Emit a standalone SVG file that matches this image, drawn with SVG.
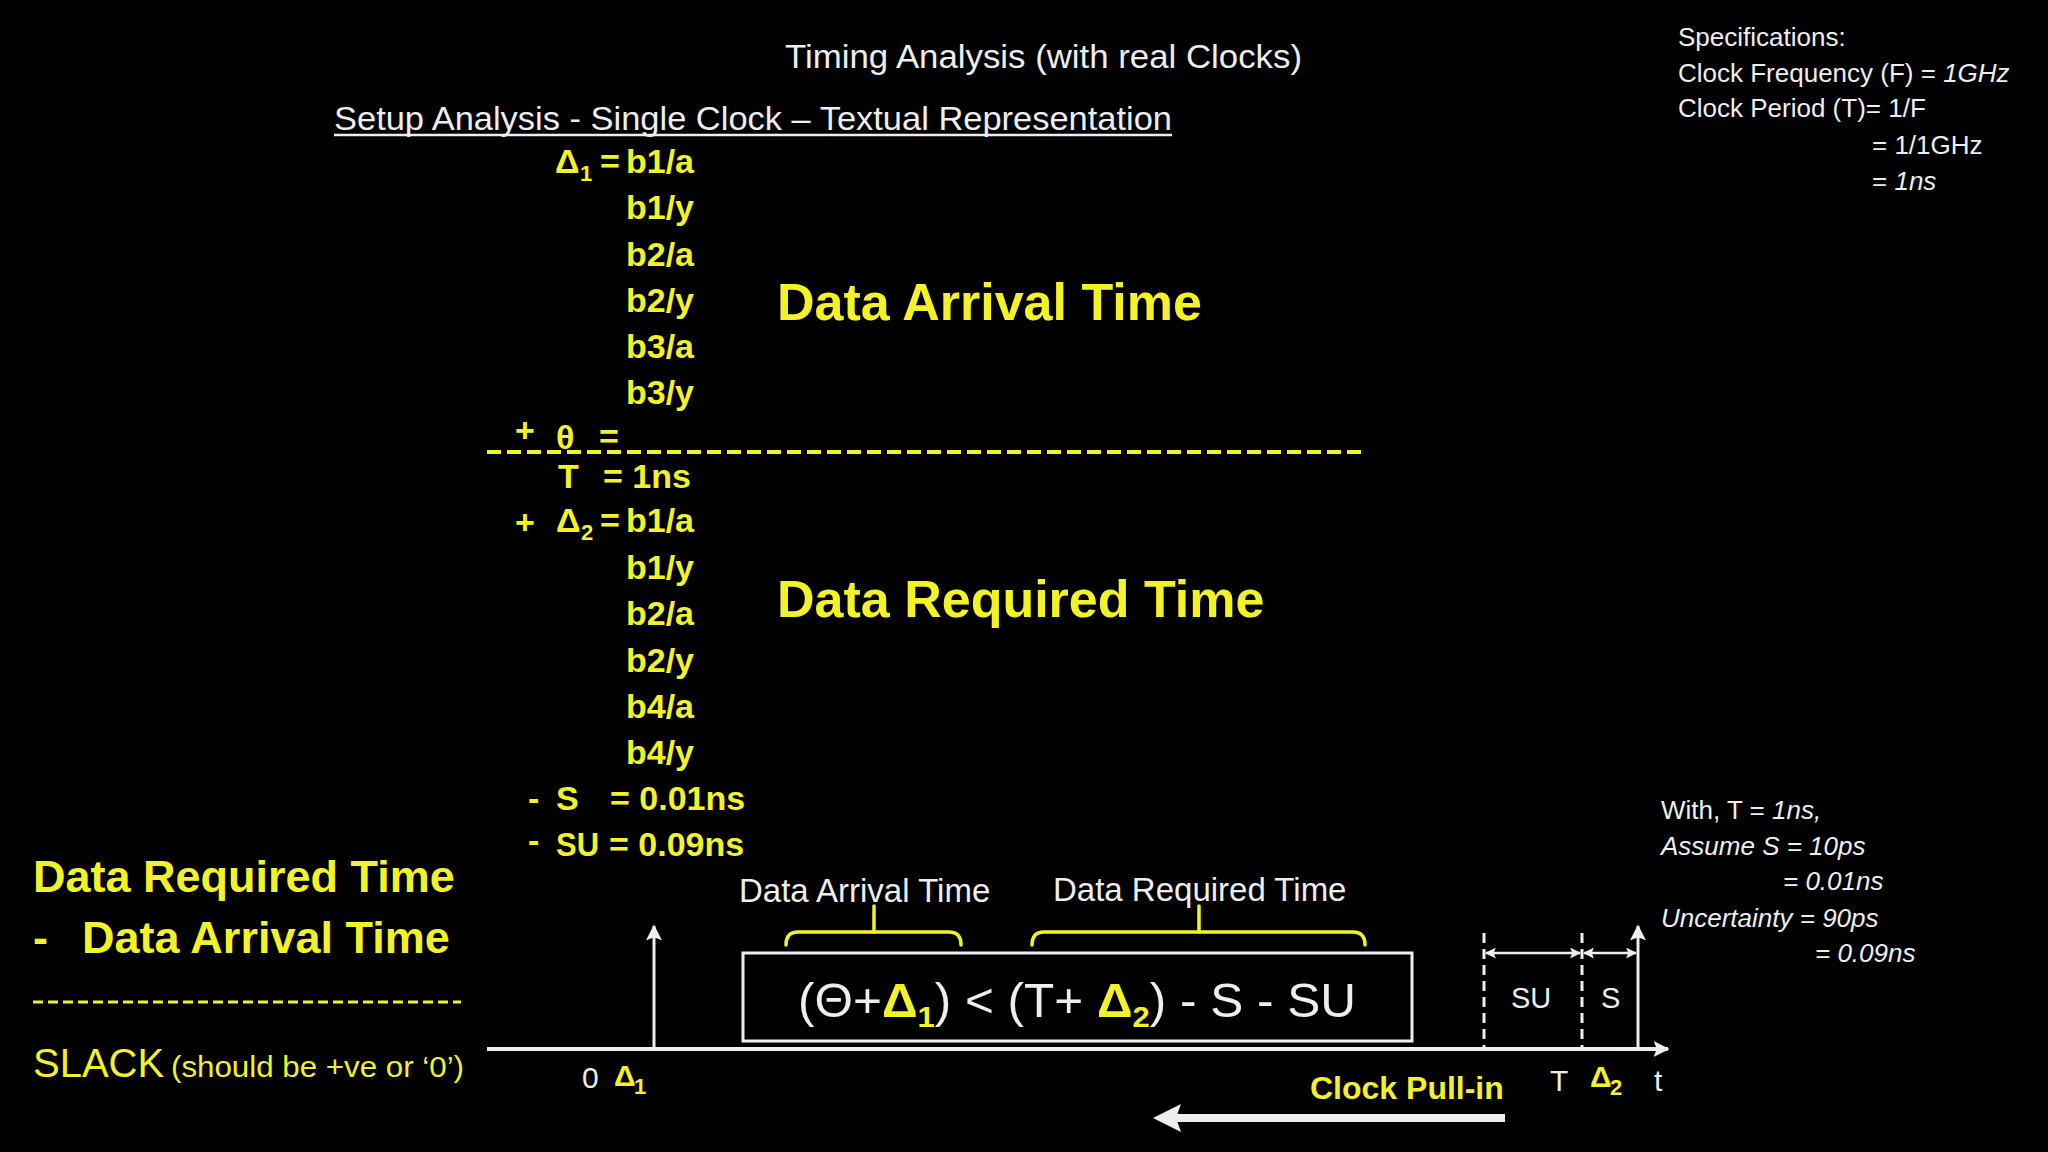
<svg xmlns="http://www.w3.org/2000/svg" width="2048" height="1152" viewBox="0 0 2048 1152">
<defs>
<style>
text{font-family:"Liberation Sans",Arial,sans-serif}
.w{fill:#EEEEEE}
.y{fill:#F2F226}
.b{font-weight:bold}
.col{font-size:34px;font-weight:bold;fill:#F2F226}
.sub{font-size:22px;font-weight:bold;fill:#F2F226}
.big{font-size:52px;font-weight:bold;fill:#F2F226}
.spec{font-size:26px;fill:#EEEEEE}
.it{font-style:italic}
.lbl{font-size:33px;fill:#EEEEEE}
.ln{stroke:#EEEEEE;stroke-width:3;fill:none}
.ydash{stroke:#F2F226;stroke-width:4;stroke-dasharray:14 6;fill:none}
.brk{stroke:#F2F226;stroke-width:3.5;fill:none;stroke-linecap:round}
</style>
<marker id="ah" viewBox="0 0 10 10" refX="9" refY="5" markerWidth="16" markerHeight="16" markerUnits="userSpaceOnUse" orient="auto"><path d="M0,0 L10,5 L0,10 L2,5 z" fill="#EEEEEE"/></marker>
<marker id="ahs" viewBox="0 0 10 10" refX="9" refY="5" markerWidth="11" markerHeight="11" markerUnits="userSpaceOnUse" orient="auto-start-reverse"><path d="M0,0 L10,5 L0,10 L2,5 z" fill="#EEEEEE"/></marker>
</defs>
<rect x="0" y="0" width="2048" height="1152" fill="#000000"/>

<g id="title">
<text class="w" x="785" y="68" font-size="34" textLength="517" lengthAdjust="spacingAndGlyphs">Timing Analysis (with real Clocks)</text>
<text class="w" x="334" y="130" font-size="34" textLength="838" lengthAdjust="spacingAndGlyphs">Setup Analysis - Single Clock – Textual Representation</text>
<line x1="334" y1="135" x2="1172" y2="135" stroke="#EEEEEE" stroke-width="2.5"/>
</g>

<g id="specifications">
<text class="spec" x="1678" y="46">Specifications:</text>
<text class="spec" x="1678" y="82">Clock Frequency (F) = <tspan class="it">1GHz</tspan></text>
<text class="spec" x="1678" y="117">Clock Period (T)= 1/F</text>
<text class="spec" x="1872" y="154">= 1/1GHz</text>
<text class="spec" x="1872" y="190">= <tspan class="it">1ns</tspan></text>
</g>

<g id="arrival-terms">
<text class="col" x="555" y="173">Δ</text><text class="sub" x="580" y="181">1</text><text class="col" x="600" y="173">=</text><text class="col" x="626" y="173">b1/a</text>
<text class="col" x="626" y="219">b1/y</text>
<text class="col" x="626" y="266">b2/a</text>
<text class="col" x="626" y="312">b2/y</text>
<text class="col" x="626" y="358">b3/a</text>
<text class="col" x="626" y="404">b3/y</text>
<text class="col" x="515" y="442" font-size="38">+</text><text class="col" x="556" y="449" font-size="32">θ</text><text class="col" x="599" y="448">=</text>
</g>

<g id="arrival-label"><text class="big" x="777" y="320">Data Arrival Time</text></g>

<g id="separator"><line class="ydash" x1="487" y1="452" x2="1365" y2="452"/></g>

<g id="required-terms">
<text class="col" x="558" y="488">T</text><text class="col" x="603" y="488">= 1ns</text>
<text class="col" x="515" y="534" font-size="38">+</text><text class="col" x="556" y="532">Δ</text><text class="sub" x="581" y="540">2</text><text class="col" x="600" y="532">=</text><text class="col" x="626" y="532">b1/a</text>
<text class="col" x="626" y="579">b1/y</text>
<text class="col" x="626" y="625">b2/a</text>
<text class="col" x="626" y="672">b2/y</text>
<text class="col" x="626" y="718">b4/a</text>
<text class="col" x="626" y="764">b4/y</text>
<text class="col" x="528" y="810">-</text><text class="col" x="556" y="810">S</text><text class="col" x="610" y="810">= 0.01ns</text>
<text class="col" x="528" y="852">-</text><text class="col" x="556" y="856" textLength="43" lengthAdjust="spacingAndGlyphs">SU</text><text class="col" x="609" y="856">= 0.09ns</text>
</g>

<g id="required-label"><text class="big" x="777" y="617">Data Required Time</text></g>

<g id="slack-equation">
<text class="y b" x="33" y="892" font-size="45">Data Required Time</text>
<text class="y b" x="33" y="953" font-size="45">-</text>
<text class="y b" x="82" y="953" font-size="45">Data Arrival Time</text>
<line x1="33" y1="1002" x2="461" y2="1002" stroke="#F2F226" stroke-width="3" stroke-dasharray="10 5"/>
<text class="y" x="33" y="1077" font-size="40">SLACK</text>
<text class="y" x="171" y="1077" font-size="29" textLength="293" lengthAdjust="spacingAndGlyphs">(should be +ve or ‘0’)</text>
</g>

<g id="spec-notes">
<text class="spec" x="1661" y="819">With, T = <tspan class="it">1ns,</tspan></text>
<text class="spec it" x="1661" y="855">Assume S = 10ps</text>
<text class="spec it" x="1783" y="890">= 0.01ns</text>
<text class="spec it" x="1661" y="927">Uncertainty = 90ps</text>
<text class="spec it" x="1815" y="962">= 0.09ns</text>
</g>

<g id="formula-box">
<rect x="743" y="953" width="669" height="88" fill="none" stroke="#EEEEEE" stroke-width="3"/>
<text x="798" y="1017" font-size="48" class="w" textLength="558" lengthAdjust="spacingAndGlyphs">(Θ+<tspan class="y b">Δ</tspan><tspan class="y b" font-size="30" dy="10">1</tspan><tspan dy="-10">) &lt; (T+ </tspan><tspan class="y b">Δ</tspan><tspan class="y b" font-size="30" dy="10">2</tspan><tspan dy="-10">) - S - SU</tspan></text>
</g>

<g id="brace-labels">
<text class="lbl" x="739" y="902">Data Arrival Time</text>
<text class="lbl" x="1053" y="901">Data Required Time</text>
</g>

<g id="timeline-labels">
<text class="w" x="582" y="1088" font-size="30">0</text>
<text class="y b" x="614" y="1086" font-size="30">Δ</text><text class="sub" x="634" y="1094" font-size="19">1</text>
<text class="w" x="1511" y="1008" font-size="29">SU</text>
<text class="w" x="1601" y="1008" font-size="29">S</text>
<text class="w" x="1550" y="1091" font-size="30">T</text>
<text class="y b" x="1590" y="1087" font-size="30">Δ</text><text class="sub" x="1610" y="1095" font-size="19">2</text>
<text class="w" x="1654" y="1091" font-size="30">t</text>
<text class="y b" x="1310" y="1099" font-size="32">Clock Pull-in</text>
</g>

<g id="connectors">
<path class="brk" d="M786,945 Q786,932 798,932 L949,932 Q961,932 961,945"/>
<line class="brk" x1="874" y1="932" x2="874" y2="906"/>
<path class="brk" d="M1032,945 Q1032,932 1044,932 L1353,932 Q1365,932 1365,945"/>
<line class="brk" x1="1199" y1="932" x2="1199" y2="906"/>
<line x1="487" y1="1049" x2="1668" y2="1049" stroke="#EEEEEE" stroke-width="4" marker-end="url(#ah)"/>
<line class="ln" x1="654" y1="1049" x2="654" y2="926" marker-end="url(#ah)"/>
<line class="ln" x1="1638" y1="1049" x2="1638" y2="926" marker-end="url(#ah)"/>
<line x1="1484" y1="933" x2="1484" y2="1049" stroke="#EEEEEE" stroke-width="3" stroke-dasharray="10 6"/>
<line x1="1582" y1="933" x2="1582" y2="1049" stroke="#EEEEEE" stroke-width="3" stroke-dasharray="10 6"/>
<line x1="1486" y1="953" x2="1580" y2="953" stroke="#EEEEEE" stroke-width="2.5" marker-start="url(#ahs)" marker-end="url(#ahs)"/>
<line x1="1584" y1="953" x2="1636" y2="953" stroke="#EEEEEE" stroke-width="2.5" marker-start="url(#ahs)" marker-end="url(#ahs)"/>
<line x1="1505" y1="1118" x2="1176" y2="1118" stroke="#EEEEEE" stroke-width="8"/>
<polygon points="1153,1118 1181,1104 1176,1118 1181,1132" fill="#EEEEEE"/>
</g>
</svg>
